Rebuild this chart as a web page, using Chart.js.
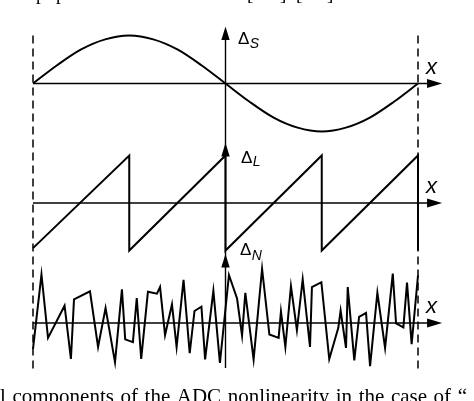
<!DOCTYPE html>
<html>
<head>
<meta charset="utf-8">
<script src="https://cdn.jsdelivr.net/npm/chart.js@4"></script>
<style>
  html, body { margin: 0; padding: 0; background: #fff; }
  canvas { display: block; }
</style>
</head>
<body>
<canvas id="myChart" width="474" height="401"></canvas>
<script>
// x runs from -1 (left dashed line) to 1 (right dashed line)
const sineX = [-1, -0.875, -0.75, -0.625, -0.5, -0.375, -0.25, -0.125, 0, 0.125, 0.25, 0.375, 0.5, 0.625, 0.75, 0.875, 1];
const sineY = [0, 0.38, 0.71, 0.92, 1, 0.92, 0.71, 0.38, 0, -0.38, -0.71, -0.92, -1, -0.92, -0.71, -0.38, 0];

const sawX = [-1, -0.5, -0.5, 0, 0, 0.5, 0.5, 1, 1];
const sawY = [-0.95, 1, -1, 1, -1, 1, -1, 1, -1];

const noiseX = [-1, -0.956, -0.922, -0.836, -0.803, -0.787, -0.704, -0.662, -0.623, -0.574,
  -0.538, -0.521, -0.481, -0.461, -0.438, -0.403, -0.356, -0.34, -0.314, -0.278,
  -0.254, -0.218, -0.186, -0.161, -0.125, -0.106, -0.063, -0.029, 0.018, 0.06,
  0.086, 0.103, 0.146, 0.19, 0.228, 0.276, 0.288, 0.311, 0.34, 0.371,
  0.401, 0.439, 0.449, 0.498, 0.539, 0.586, 0.598, 0.626, 0.635, 0.669,
  0.694, 0.73, 0.751, 0.789, 0.829, 0.869, 0.886, 0.924, 0.943, 0.967, 1];
const noiseY = [-0.54, 1.01, -0.31, 0.36, -0.75, 0.49, 0.66, -0.5, 0.31, -0.82,
  0.7, -0.34, -0.4, 0.52, -0.75, 0.65, 0.61, 0.75, -0.25, 0.39,
  -0.5, 0.9, -0.63, 0.25, 0.34, -0.76, 0.67, -0.83, 1.0, 0.51,
  -0.26, 0.63, -0.76, 1.13, -0.24, -0.31, 0.24, -0.5, 0.77, -0.15,
  0.91, -0.5, 0.75, 0.85, -0.75, -0.1, 0.26, -0.52, 0.75, -0.78,
  0.13, 0.21, -0.9, 0.63, -0.52, 1.03, -0.01, -0.09, 0.84, -0.44, 0.99];

const axisSubs = ['S', 'L', 'N'];
const xLabel = 'x';
const caption = 'l components of the ADC nonlinearity in the case of \u201C';
const topBits = ['p', 'p', '[', ']', '[', ']'];

// layout of the three stacked panels (pixel row of zero line, px per unit)
const H = 401;
const panels = [
  { id: 'yS', zero: 83.5, unit: 48, tip: 26.5, lx: 238, ly: 39.2, sy: 4 },
  { id: 'yL', zero: 203, unit: 47.5, tip: 143, lx: 241, ly: 39.7, sy: 3 },
  { id: 'yN', zero: 323, unit: 48, tip: 254, lx: 240, ly: 68, sy: 5 }
];
const topBitsX = [36, 56, 247, 280, 296, 327];

const pts = (xs, ys) => xs.map((x, i) => ({ x: x, y: ys[i] }));

const yScales = {};
panels.forEach(p => {
  yScales[p.id] = { type: 'linear', display: false, bounds: 'data',
    min: -(H - p.zero) / p.unit, max: p.zero / p.unit };
});

const sansFont = "'Liberation Sans', Arial, sans-serif";
const serifFont = "'Liberation Serif', 'Times New Roman', serif";

const axesPlugin = {
  id: 'axes',
  beforeDatasetsDraw(chart) {
    const { ctx, scales } = chart;
    const x = scales.x;
    const left = x.getPixelForValue(-1);
    const right = x.getPixelForValue(1);
    const mid = x.getPixelForValue(0);
    const arrowEnd = x.getPixelForValue(1.125);
    const top = scales.yS.getPixelForValue(1);
    const bottom = scales.yN.getPixelForValue(-0.98);
    ctx.save();
    ctx.strokeStyle = '#000';
    ctx.fillStyle = '#000';

    // dashed period boundaries
    ctx.lineWidth = 1.5;
    ctx.setLineDash([8, 5]);
    [left, right].forEach(px => {
      ctx.beginPath();
      ctx.moveTo(px, top);
      ctx.lineTo(px, bottom);
      ctx.stroke();
    });
    ctx.setLineDash([]);

    // central vertical axis
    ctx.lineWidth = 1.4;
    ctx.beginPath();
    ctx.moveTo(mid, panels[0].tip + 4);
    ctx.lineTo(mid, scales.yN.getPixelForValue(-0.94));
    ctx.stroke();

    panels.forEach(p => {
      const y0 = scales[p.id].getPixelForValue(0);
      // x axis
      ctx.lineWidth = 1.4;
      ctx.beginPath();
      ctx.moveTo(left, y0);
      ctx.lineTo(arrowEnd - 6, y0);
      ctx.stroke();
      ctx.beginPath();
      ctx.moveTo(arrowEnd, y0);
      ctx.lineTo(arrowEnd - 15, y0 - 4.5);
      ctx.lineTo(arrowEnd - 15, y0 + 4.5);
      ctx.closePath();
      ctx.fill();
      // vertical arrow head
      ctx.beginPath();
      ctx.moveTo(mid, p.tip);
      ctx.lineTo(mid - 4.2, p.tip + 13.5);
      ctx.lineTo(mid + 4.2, p.tip + 13.5);
      ctx.closePath();
      ctx.fill();
    });
    ctx.restore();
  },
  afterDraw(chart) {
    const { ctx, scales } = chart;
    ctx.save();
    ctx.fillStyle = '#000';
    ctx.textBaseline = 'alphabetic';
    panels.forEach((p, i) => {
      const y0 = scales[p.id].getPixelForValue(0);
      const by = y0 - p.ly;
      ctx.font = '17px ' + sansFont;
      ctx.fillText('\u0394', p.lx, by);
      const w = ctx.measureText('\u0394').width;
      ctx.font = 'italic 14px ' + sansFont;
      ctx.fillText(axisSubs[i], p.lx + w + 0.5, by + p.sy);
      ctx.font = 'italic 22px ' + sansFont;
      ctx.fillText(xLabel, 426, y0 - 10);
    });

    // clipped surrounding text of the page, justified over the width
    ctx.font = '21px ' + serifFont;
    const words = caption.split(' ');
    const total = words.reduce((s, w) => s + ctx.measureText(w).width, 0);
    const gap = (467 - total) / (words.length - 1);
    let cx = 0;
    words.forEach(w => {
      ctx.fillText(w, cx, 403);
      cx += ctx.measureText(w).width + gap;
    });
    ctx.font = '19px ' + serifFont;
    topBits.forEach((w, i) => ctx.fillText(w, topBitsX[i], 0));
    ctx.restore();
  }
};

const common = { borderColor: '#000', borderWidth: 2, pointRadius: 0, fill: false, clip: false };

const ctx = document.getElementById('myChart').getContext('2d');
const myChart = new Chart(ctx, {
  type: 'line',
  data: {
    datasets: [
      Object.assign({ data: pts(sineX, sineY), yAxisID: 'yS', cubicInterpolationMode: 'monotone' }, common),
      Object.assign({ data: pts(sawX, sawY), yAxisID: 'yL', tension: 0 }, common),
      Object.assign({ data: pts(noiseX, noiseY), yAxisID: 'yN', tension: 0, borderWidth: 2.2 }, common)
    ]
  },
  options: {
    responsive: false,
    animation: false,
    events: [],
    layout: { padding: { left: 33, right: 56, top: 0, bottom: 0 } },
    scales: Object.assign({
      x: { type: 'linear', display: false, bounds: 'data', min: -1, max: 1 }
    }, yScales),
    plugins: {
      legend: { display: false },
      tooltip: { enabled: false }
    }
  },
  plugins: [axesPlugin]
});
</script>
</body>
</html>
